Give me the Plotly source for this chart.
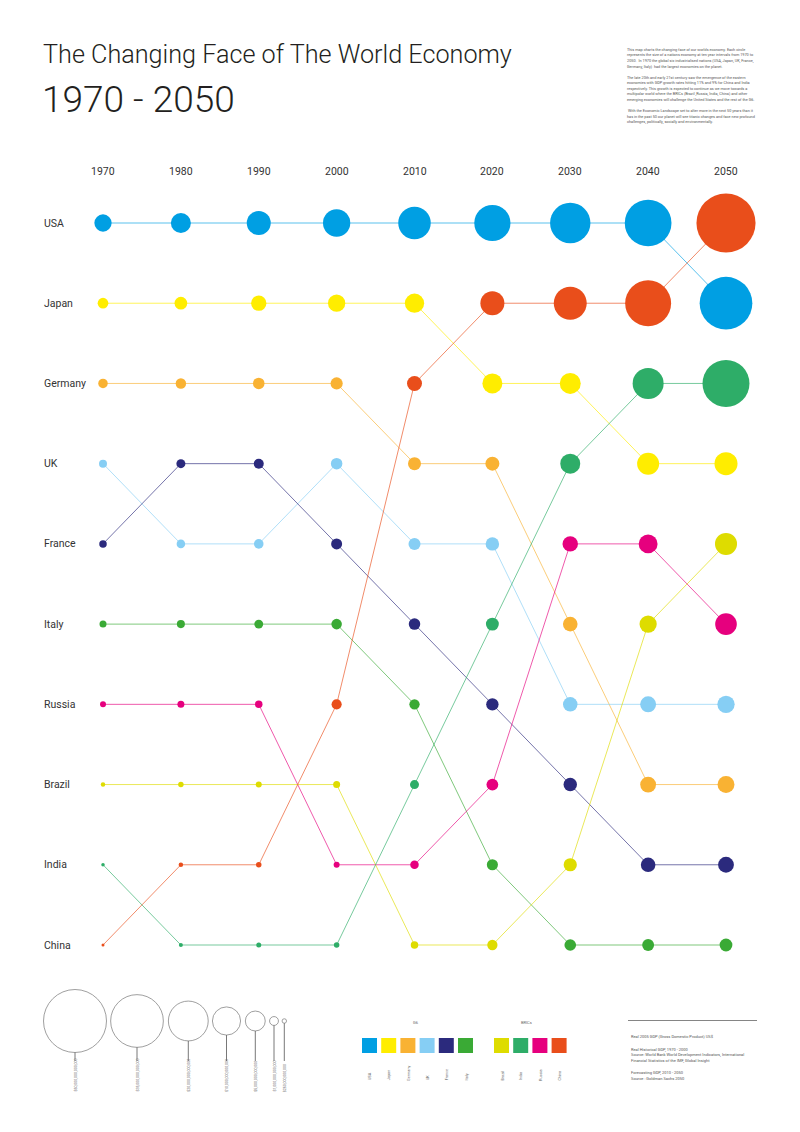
import math
import plotly.graph_objects as go

# ---------------- data ----------------
years = [1970, 1980, 1990, 2000, 2010, 2020, 2030, 2040, 2050]
countries = ["USA", "Japan", "Germany", "UK", "France", "Italy", "Russia", "Brazil", "India", "China"]
row_labels = ["USA", "Japan", "Germany", "UK", "France", "Italy", "Russia", "Brazil", "India", "China"]

colors = {
    "USA": "#009FE3", "Japan": "#FFED00", "Germany": "#F9B233", "UK": "#86CEF4",
    "France": "#2B2A7D", "Italy": "#3AAA35", "Russia": "#E6007E", "Brazil": "#DEDC00",
    "India": "#2EAD68", "China": "#E94E1B",
}

# rank (row) of each country per year
rank_usa = [1, 1, 1, 1, 1, 1, 1, 1, 2]
rank_japan = [2, 2, 2, 2, 2, 3, 3, 4, 4]
rank_germany = [3, 3, 3, 3, 4, 4, 6, 8, 8]
rank_uk = [4, 5, 5, 4, 5, 5, 7, 7, 7]
rank_france = [5, 4, 4, 5, 6, 7, 8, 9, 9]
rank_italy = [6, 6, 6, 6, 7, 9, 10, 10, 10]
rank_russia = [7, 7, 7, 9, 9, 8, 5, 5, 6]
rank_brazil = [8, 8, 8, 8, 10, 10, 9, 6, 5]
rank_india = [9, 10, 10, 10, 8, 6, 4, 3, 3]
rank_china = [10, 9, 9, 7, 3, 2, 2, 2, 1]

# GDP, US$ billions (estimated from circle sizes)
gdp_usa = [3770, 5040, 7260, 9390, 13300, 16500, 20500, 27500, 35000]
gdp_japan = [1440, 2030, 2950, 3770, 4690, 5040, 5560, 6100, 6670]
gdp_germany = [1140, 1390, 1670, 1875, 2130, 2470, 2700, 3150, 3600]
gdp_uk = [806, 920, 1150, 1670, 1810, 2285, 2650, 3200, 3780]
gdp_france = [709, 1020, 1260, 1520, 1670, 1930, 2270, 2670, 3150]
gdp_italy = [617, 820, 1000, 1400, 1340, 1550, 1700, 1790, 2060]
gdp_russia = [454, 617, 709, 454, 910, 1750, 3000, 4470, 5900]
gdp_brazil = [255, 381, 454, 617, 709, 1330, 2190, 3740, 6100]
gdp_india = [154, 202, 315, 381, 1020, 2100, 5040, 12100, 27800]
gdp_china = [113, 255, 381, 1300, 2830, 7260, 13700, 26600, 44000]

ranks = {"USA": rank_usa, "Japan": rank_japan, "Germany": rank_germany, "UK": rank_uk,
         "France": rank_france, "Italy": rank_italy, "Russia": rank_russia,
         "Brazil": rank_brazil, "India": rank_india, "China": rank_china}
gdps = {"USA": gdp_usa, "Japan": gdp_japan, "Germany": gdp_germany, "UK": gdp_uk,
        "France": gdp_france, "Italy": gdp_italy, "Russia": gdp_russia,
        "Brazil": gdp_brazil, "India": gdp_india, "China": gdp_china}

size_legend_values = [50000, 35000, 20000, 10000, 5000, 1000, 250]
size_legend_labels = ["$50,000,000,000,000", "$35,000,000,000,000", "$20,000,000,000,000",
                      "$10,000,000,000,000", "$5,000,000,000,000", "$1,000,000,000,000",
                      "$250,000,000,000"]
g6 = ["USA", "Japan", "Germany", "UK", "France", "Italy"]
brics = ["Brazil", "India", "Russia", "China"]

title = "The Changing Face of The World Economy"
subtitle = "1970 - 2050"
intro_lines = [
    "This map charts the changing face of our worlds economy. Each circle",
    "represents the size of a nations economy at ten year intervals from 1970 to",
    "2050.  In 1970 the global six industrialised nations (USA, Japan, UK, France,",
    "Germany, Italy)  had the largest economies on the planet.",
    "",
    "The late 20th and early 21st century saw the emergence of the eastern",
    "economies with GDP growth rates hitting 11% and 9% for China and India",
    "respectively. This growth is expected to continue as we move towards a",
    "multipolar world where the BRICs (Brazil ,Russia, India, China) and other",
    "emerging economies will challenge the United States and the rest of the G6.",
    "",
    " With the Economic Landscape set to alter more in the next 50 years than it",
    "has in the past 50 our planet will see titanic changes and face new profound",
    "challenges, politically, socially and environmentally.",
]
source_lines = [
    ("Real 2005 GDP (Gross Domestic Product) US$", 1036),
    ("Real Historical GDP, 1970 - 2000", 1049),
    ("Source: World Bank World Development Indicators, International", 1054.5),
    ("Financial Statistics of the IMF, Global Insight", 1060),
    ("Forecasting GDP, 2010 - 2050", 1072),
    ("Source : Goldman Sachs 2050", 1078),
]

# ---------------- layout helpers ----------------
W, H = 800, 1132
X_FIRST_PX, X_LAST_PX = 103, 726
Y_FIRST_PX, Y_LAST_PX = 223, 945
xslope = (X_LAST_PX - X_FIRST_PX) / (years[-1] - years[0])
yslope = (Y_LAST_PX - Y_FIRST_PX) / 9.0


def px_to_x(px):
    return years[0] + (px - X_FIRST_PX) / xslope


def py_to_y(py):
    return 1 + (py - Y_FIRST_PX) / yslope


def PX(px):
    return px / W


def PY(py):
    return 1 - py / H


SCALE = 63.0 / math.sqrt(50000)  # px diameter per sqrt(bn)


def diam(v):
    return SCALE * math.sqrt(v)


def fade(hexc, a):
    h = hexc.lstrip("#")
    r, g, b = int(h[0:2], 16), int(h[2:4], 16), int(h[4:6], 16)
    return f"rgba({r},{g},{b},{a})"


FONT = "Roboto"
TXT = "#231F20"

fig = go.Figure()

# connecting lines (under all circles)
for c in countries:
    fig.add_trace(go.Scatter(
        x=years, y=ranks[c], mode="lines",
        line=dict(color=fade(colors[c], 0.65), width=1),
        hoverinfo="skip", showlegend=False))

# circles
for c in countries:
    fig.add_trace(go.Scatter(
        x=years, y=ranks[c], mode="markers",
        marker=dict(size=[diam(v) for v in gdps[c]], color=colors[c], opacity=1,
                    line=dict(width=0)),
        name=c, showlegend=False, hovertemplate=c + " %{x}<extra></extra>"))

# size legend
leg_cx = [75, 137, 188.3, 226.5, 255.3, 274, 284.3]
leg_cy = 1021
fig.add_trace(go.Scatter(
    x=[px_to_x(p) for p in leg_cx], y=[py_to_y(leg_cy)] * len(leg_cx), mode="markers",
    marker=dict(size=[diam(v) for v in size_legend_values], color="white",
                line=dict(color="#555555", width=0.8)),
    hoverinfo="skip", showlegend=False))

shapes = []
annotations = []

for cx, v, lab in zip(leg_cx, size_legend_values, size_legend_labels):
    shapes.append(dict(type="line", xref="paper", yref="paper",
                       x0=PX(cx), x1=PX(cx), y0=PY(leg_cy + diam(v) / 2), y1=PY(1061),
                       line=dict(color="#555555", width=0.8)))
    annotations.append(dict(xref="paper", yref="paper", x=PX(cx), y=PY(1094),
                            text=lab, showarrow=False, textangle=-90,
                            xanchor="center", yanchor="bottom",
                            font=dict(family=FONT, size=3.6, color="#666666")))

# colour legend
sw_x = [362, 381.2, 400.4, 419.6, 438.8, 458, 494, 513.2, 532.4, 551.6]
sw_y0, sw_y1 = 1038, 1053
for xx, c in zip(sw_x, g6 + brics):
    shapes.append(dict(type="rect", xref="paper", yref="paper",
                       x0=PX(xx), x1=PX(xx + 15), y0=PY(sw_y1), y1=PY(sw_y0),
                       fillcolor=colors[c], line=dict(width=0)))
    annotations.append(dict(xref="paper", yref="paper", x=PX(xx + 7.5), y=PY(1082.5),
                            text=c, showarrow=False, textangle=-90,
                            xanchor="center", yanchor="bottom",
                            font=dict(family=FONT, size=3.8, color="#666666")))
annotations.append(dict(xref="paper", yref="paper", x=PX(416), y=PY(1022.5), text="G6",
                        showarrow=False, xanchor="center", yanchor="middle",
                        font=dict(family=FONT, size=4, color="#666666")))
annotations.append(dict(xref="paper", yref="paper", x=PX(526), y=PY(1022.5), text="BRICs",
                        showarrow=False, xanchor="center", yanchor="middle",
                        font=dict(family=FONT, size=4, color="#666666")))

# source block
shapes.append(dict(type="line", xref="paper", yref="paper", x0=PX(628), x1=PX(757),
                   y0=PY(1020.5), y1=PY(1020.5), line=dict(color="#666666", width=0.8)))
for t, yy in source_lines:
    annotations.append(dict(xref="paper", yref="paper", x=PX(629), y=PY(yy), text=t,
                            showarrow=False, xanchor="left", yanchor="middle",
                            font=dict(family=FONT, size=4, color="#555555")))

# intro paragraph
for i, t in enumerate(intro_lines):
    if not t.strip():
        continue
    annotations.append(dict(xref="paper", yref="paper", x=PX(625), y=PY(49.3 + 5.57 * i),
                            text=t, showarrow=False, xanchor="left", yanchor="middle",
                            font=dict(family=FONT, size=3.8, color="#555555")))

# titles
annotations.append(dict(xref="paper", yref="paper", x=PX(41), y=PY(54), text=title,
                        showarrow=False, xanchor="left", yanchor="middle",
                        font=dict(family=FONT, size=25.2, color=TXT, weight=300)))
annotations.append(dict(xref="paper", yref="paper", x=PX(40), y=PY(100), text=subtitle,
                        showarrow=False, xanchor="left", yanchor="middle",
                        font=dict(family=FONT, size=37, color=TXT, weight=300)))

# year labels
for yr in years:
    annotations.append(dict(xref="x", yref="paper", x=yr, y=PY(171.5), text=str(yr),
                            showarrow=False, xanchor="center", yanchor="middle",
                            font=dict(family=FONT, size=10.5, color="#333333")))

# row labels
for i, lab in enumerate(row_labels):
    annotations.append(dict(xref="paper", yref="y", x=PX(42), y=i + 1, text=lab,
                            showarrow=False, xanchor="left", yanchor="middle",
                            font=dict(family=FONT, size=10.5, color="#333333")))

fig.update_layout(
    width=W, height=H, margin=dict(l=0, r=0, t=0, b=0),
    paper_bgcolor="white", plot_bgcolor="white",
    xaxis=dict(range=[px_to_x(0), px_to_x(W)], visible=False, fixedrange=True),
    yaxis=dict(range=[py_to_y(H), py_to_y(0)], visible=False, fixedrange=True),
    shapes=shapes, annotations=annotations, showlegend=False,
)

fig.write_html("out.html")
